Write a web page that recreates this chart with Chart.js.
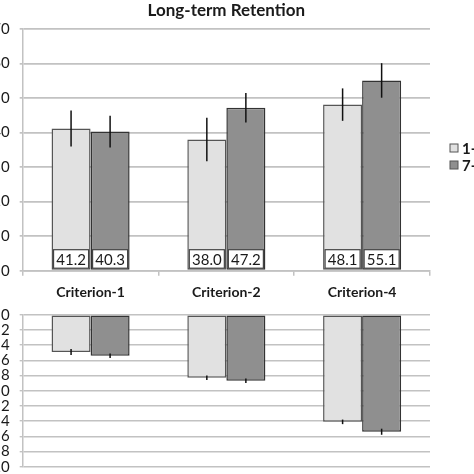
<!DOCTYPE html>
<html lang="en">
<head>
  <meta charset="UTF-8">
  <title>Long-term Retention</title>
  <script src="https://cdn.jsdelivr.net/npm/chart.js@4.4.1/dist/chart.umd.min.js"></script>
  <style>
    body { margin: 0; background: #fff; }
    #frame { position: relative; width: 474px; height: 474px; overflow: hidden; background: #fff; }
    /* the canvases are wider than the frame, so the axis labels and legend get cut at the edges */
    #top-box { position: absolute; left: -40px; top: 0; width: 532px; height: 300px; }
    #bottom-box { position: absolute; left: -40px; top: 300px; width: 532px; height: 174px; }
  </style>
</head>
<body>

<div id="frame">
  <div id="top-box"><canvas id="topChart"></canvas></div>
  <div id="bottom-box"><canvas id="bottomChart"></canvas></div>
</div>

<script>
  const categories = ['Criterion-1', 'Criterion-2', 'Criterion-4'];
  const seriesNames = ['1-day', '7-day'];

  // upper panel
  const topValues1 = [41.2, 38.0, 48.1];
  const topValues7 = [40.3, 47.2, 55.1];
  const topErrors1 = [5.2, 6.3, 4.7];
  const topErrors7 = [4.6, 4.3, 5.0];
  const topTicks = [0, 10, 20, 30, 40, 50, 60, 70];

  // lower panel (reversed axis)
  const bottomValues1 = [4.9, 8.3, 14.1];
  const bottomValues7 = [5.4, 8.7, 15.4];
  const bottomErrors1 = [0.4, 0.3, 0.3];
  const bottomErrors7 = [0.3, 0.3, 0.4];
  const bottomTicks = [0, 2, 4, 6, 8, 10, 12, 14, 16, 18, 20];

  const lightFill = '#e1e1e1';
  const darkFill = '#8f8f8f';
  const gridColor = '#c2c2c2';
  const textColor = '#1a1a1a';

  Chart.defaults.font.family = 'Lato, "Open Sans", sans-serif';
  Chart.defaults.color = textColor;

  // black error whiskers, no caps
  const errorBars = {
    id: 'errorBars',
    afterDatasetsDraw(chart) {
      const ctx = chart.ctx;
      const y = chart.scales.y;
      ctx.save();
      ctx.strokeStyle = '#111';
      ctx.lineWidth = 1.5;
      chart.data.datasets.forEach((ds, i) => {
        chart.getDatasetMeta(i).data.forEach((bar, j) => {
          const v = ds.data[j], e = ds.errors[j];
          ctx.beginPath();
          ctx.moveTo(bar.x, y.getPixelForValue(v + e));
          ctx.lineTo(bar.x, y.getPixelForValue(v - e));
          ctx.stroke();
        });
      });
      ctx.restore();
    }
  };

  // white boxes with the value at the foot of each bar
  const valueBoxes = {
    id: 'valueBoxes',
    afterDatasetsDraw(chart) {
      const ctx = chart.ctx;
      const base = chart.scales.y.getPixelForValue(0);
      ctx.save();
      ctx.font = '15px ' + Chart.defaults.font.family;
      ctx.textAlign = 'center';
      ctx.textBaseline = 'middle';
      chart.data.datasets.forEach((ds, i) => {
        chart.getDatasetMeta(i).data.forEach((bar, j) => {
          const txt = ds.data[j].toFixed(1);
          const w = Math.min(ctx.measureText(txt).width + 7, bar.width - 4);
          const h = 18.5;
          const top = base - 2.5 - h;
          ctx.fillStyle = '#fff';
          ctx.fillRect(bar.x - w / 2, top, w, h);
          ctx.strokeStyle = '#444';
          ctx.lineWidth = 1.2;
          ctx.strokeRect(bar.x - w / 2, top, w, h);
          ctx.fillStyle = textColor;
          ctx.fillText(txt, bar.x, top + h / 2 + 1);
        });
      });
      ctx.restore();
    }
  };

  // legend at the right, cut by the frame edge
  const sideLegend = {
    id: 'sideLegend',
    afterDraw(chart) {
      const ctx = chart.ctx;
      const x0 = chart.chartArea.right + 20;
      const rows = [148, 165];
      ctx.save();
      ctx.font = 'bold 15px ' + Chart.defaults.font.family;
      ctx.textBaseline = 'middle';
      chart.data.datasets.forEach((ds, i) => {
        const cy = rows[i];
        ctx.fillStyle = ds.backgroundColor;
        ctx.fillRect(x0, cy - 4, 8, 8);
        ctx.strokeStyle = '#555';
        ctx.lineWidth = 1;
        ctx.strokeRect(x0, cy - 4, 8, 8);
        ctx.fillStyle = textColor;
        ctx.fillText(ds.label, x0 + 12, cy + 1);
      });
      ctx.restore();
    }
  };

  function makeDatasets(v1, v7, e1, e7) {
    return [
      { label: seriesNames[0], data: v1, errors: e1, backgroundColor: lightFill,
        borderColor: '#555', borderWidth: 1.5, borderSkipped: false,
        categoryPercentage: 0.575, barPercentage: 1.0 },
      { label: seriesNames[1], data: v7, errors: e7, backgroundColor: darkFill,
        borderColor: '#333', borderWidth: 1.5, borderSkipped: false,
        categoryPercentage: 0.575, barPercentage: 1.0 }
    ];
  }

  // fixed axis width, and no extra room asked for the end labels
  function fixYAxis(s) {
    s.width = 62.7;
    s.paddingTop = 0;
    s.paddingBottom = 0;
  }

  new Chart(document.getElementById('topChart'), {
    type: 'bar',
    data: { labels: categories, datasets: makeDatasets(topValues1, topValues7, topErrors1, topErrors7) },
    options: {
      responsive: true,
      maintainAspectRatio: false,
      animation: false,
      layout: { padding: { left: 0, right: 62, top: 0, bottom: 0 } },
      plugins: {
        legend: { display: false },
        tooltip: { enabled: false },
        title: {
          display: true,
          fullSize: false,
          text: 'Long-term Retention',
          color: textColor,
          font: { size: 17, weight: 'bold' },
          padding: { top: 0, bottom: 8.6 }
        }
      },
      scales: {
        x: {
          grid: { drawOnChartArea: false, drawTicks: true, tickLength: 5, color: gridColor, lineWidth: 1.5 },
          border: { display: true, color: gridColor, width: 1.5 },
          ticks: { color: textColor, font: { size: 14, weight: 'bold' }, padding: 8 },
          afterFit: s => { s.height = 29.3; }
        },
        y: {
          min: topTicks[0],
          max: topTicks[topTicks.length - 1],
          ticks: { stepSize: topTicks[1] - topTicks[0], color: textColor, font: { size: 15 }, padding: 10 },
          grid: { color: gridColor, lineWidth: 1.7, tickLength: 3 },
          border: { display: true, color: gridColor, width: 1.5 },
          afterFit: fixYAxis
        }
      }
    },
    plugins: [errorBars, valueBoxes, sideLegend]
  });

  new Chart(document.getElementById('bottomChart'), {
    type: 'bar',
    data: { labels: categories, datasets: makeDatasets(bottomValues1, bottomValues7, bottomErrors1, bottomErrors7) },
    options: {
      responsive: true,
      maintainAspectRatio: false,
      animation: false,
      layout: { padding: { left: 0, right: 62, top: 14.7, bottom: 7.3 } },
      plugins: {
        legend: { display: false },
        tooltip: { enabled: false },
        title: { display: false }
      },
      scales: {
        x: { display: false },
        y: {
          reverse: true,
          min: bottomTicks[0],
          max: bottomTicks[bottomTicks.length - 1],
          ticks: { stepSize: bottomTicks[1] - bottomTicks[0], autoSkip: false, color: textColor,
                   font: { size: 15, lineHeight: 1 }, padding: 10 },
          grid: { color: gridColor, lineWidth: 1.4, tickLength: 3 },
          border: { display: true, color: gridColor, width: 1.5 },
          afterFit: fixYAxis
        }
      }
    },
    plugins: [errorBars]
  });
</script>

</body>
</html>
